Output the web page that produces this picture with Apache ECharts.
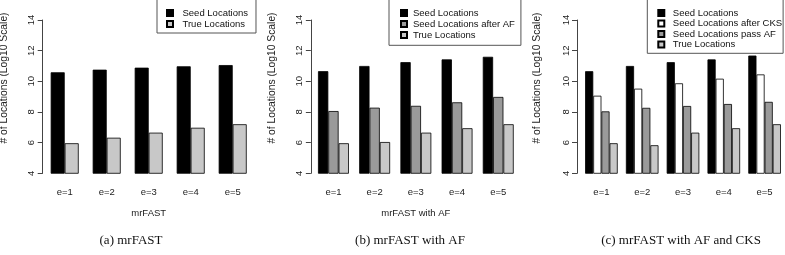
<!DOCTYPE html>
<html>
<head>
<meta charset="utf-8">
<script src="https://cdn.jsdelivr.net/npm/echarts@6/dist/echarts.min.js"></script>
<style>html,body{margin:0;padding:0;background:#fff;}#c{width:785px;height:255px;}</style>
</head>
<body>
<div id="c"></div>
<script>
const categories = ['e=1', 'e=2', 'e=3', 'e=4', 'e=5'];
const yTicks = [4, 6, 8, 10, 12, 14];

// Panel (a) mrFAST
const aSeed = [10.59, 10.76, 10.89, 10.98, 11.06];
const aTrue = [5.96, 6.32, 6.65, 6.97, 7.2];

// Panel (b) mrFAST with AF
const bSeed = [10.66, 11.0, 11.25, 11.43, 11.6];
const bAfterAF = [8.06, 8.28, 8.4, 8.63, 8.98];
const bTrue = [5.96, 6.04, 6.65, 6.94, 7.2];

// Panel (c) mrFAST with AF and CKS
const cSeed = [10.66, 11.0, 11.25, 11.43, 11.68];
const cAfterCKS = [9.06, 9.52, 9.87, 10.17, 10.45];
const cPassAF = [8.04, 8.27, 8.39, 8.52, 8.66];
const cTrue = [5.96, 5.83, 6.65, 6.94, 7.2];

const captions = ['(a) mrFAST', '(b) mrFAST with AF', '(c) mrFAST with AF and CKS'];
const xTitles = ['mrFAST', 'mrFAST with AF', ''];
const yTitle = '# of Locations (Log10 Scale)';

const COL = { seed: '#000000', cks: '#ffffff', af: '#9a9a9a', tru: '#c8c8c8' };
const SANS = 'Liberation Sans, Arial, sans-serif';

const panels = [
  { left: 43.7, width: 210, bw: 14, off: 1, capX: 131, ytx: 4,
    series: [['Seed Locations', aSeed, COL.seed], ['True Locations', aTrue, COL.tru]],
    legend: { left: 157, padding: [9.6, 8, 3.4, 9], tp: 4.5, lh: 11 } },
  { left: 312.85, width: 206, bw: 10.3, off: 2, capX: 410, ytx: 272,
    series: [['Seed Locations', bSeed, COL.seed], ['Seed Locations after AF', bAfterAF, COL.af], ['True Locations', bTrue, COL.tru]],
    legend: { left: 389, padding: [9.4, 6, 4.9, 11], tp: 1, lh: 11 } },
  { left: 581, width: 204, bw: 8.15, off: 4, capX: 681, ytx: 537.5,
    series: [['Seed Locations', cSeed, COL.seed], ['Seed Locations after CKS', cAfterCKS, COL.cks], ['Seed Locations pass AF', cPassAF, COL.af], ['True Locations', cTrue, COL.tru]],
    legend: { left: 647.3, padding: [9.8, 1, 3.5, 10], tp: 3.5, lh: 10.5 } }
];

const grid = [], xAxis = [], yAxis = [], series = [], legend = [], graphic = [];
panels.forEach((p, i) => {
  grid.push({ left: p.left, width: p.width, top: 20, height: 153.3 });
  xAxis.push({
    type: 'category', gridIndex: i, data: categories,
    axisLine: { show: false }, axisTick: { show: false },
    axisLabel: { fontFamily: SANS, fontSize: 9.5, color: '#222', margin: 14 },
    name: xTitles[i], nameLocation: 'middle', nameGap: 35.5,
    nameTextStyle: { fontFamily: SANS, fontSize: 9.5, color: '#222' }
  });
  yAxis.push({
    type: 'value', gridIndex: i, min: yTicks[0], max: yTicks[yTicks.length - 1], interval: 2,
    offset: p.off, splitLine: { show: false },
    axisLine: { show: true, lineStyle: { color: '#444', width: 1 } },
    axisTick: { show: true, length: 5, lineStyle: { color: '#444' } },
    axisLabel: { rotate: 90, fontFamily: SANS, fontSize: 9.5, color: '#222', margin: 6 }
  });
  p.series.forEach(([name, data, color]) => {
    series.push({
      type: 'bar', name, data, xAxisIndex: i, yAxisIndex: i,
      barWidth: p.bw, barGap: '0%',
      itemStyle: { color, borderColor: '#000', borderWidth: 0.8 },
      emphasis: { disabled: true }, animation: false
    });
  });
  legend.push({
    data: p.series.map(s => s[0]), orient: 'vertical', left: p.legend.left, top: -2,
    padding: p.legend.padding, itemGap: 0, itemWidth: 6, itemHeight: 6, icon: 'rect',
    backgroundColor: '#fff', borderColor: '#555', borderWidth: 1, borderRadius: 0,
    selectedMode: false,
    textStyle: { fontFamily: SANS, fontSize: 9.5, color: '#111', lineHeight: p.legend.lh, padding: [0, 0, 0, p.legend.tp] }
  });
  graphic.push({
    type: 'text', x: p.ytx, y: 78, rotation: Math.PI / 2,
    style: { text: yTitle, fontFamily: SANS, fontSize: 10.3, fill: '#222', align: 'center', verticalAlign: 'middle' }
  });
  graphic.push({
    type: 'text', x: p.capX, y: 241,
    style: { text: captions[i], fontFamily: 'Liberation Serif, Times New Roman, serif', fontSize: 13, fill: '#111', align: 'center', verticalAlign: 'middle' }
  });
});

const chart = echarts.init(document.getElementById('c'), null, { renderer: 'canvas' });
chart.setOption({ animation: false, backgroundColor: '#fff', grid, xAxis, yAxis, series, legend, graphic });
</script>
</body>
</html>
